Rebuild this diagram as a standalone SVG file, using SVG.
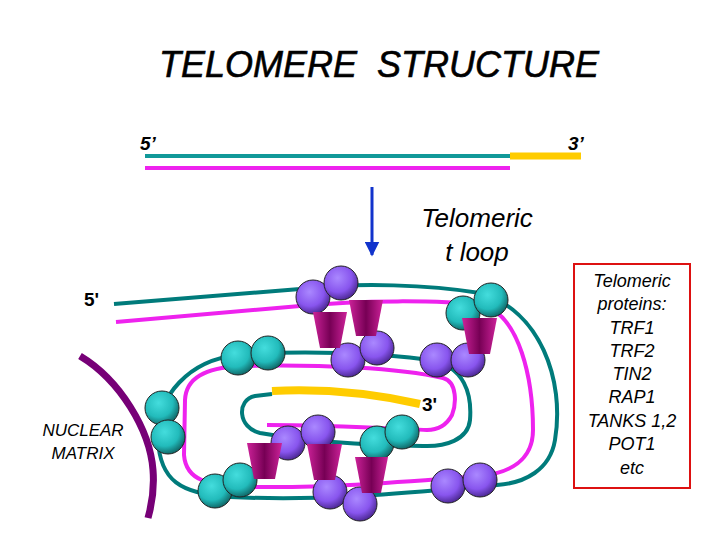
<svg xmlns="http://www.w3.org/2000/svg" width="720" height="540" viewBox="0 0 720 540">
<style>
text{font-family:"Liberation Sans",Arial,sans-serif;fill:#000}
.t{fill:none;stroke:#007b7b;stroke-width:4}
.m{fill:none;stroke:#ee22ee;stroke-width:4}
.it{font-style:italic}
.p{fill:url(#gp);stroke:#222;stroke-width:1}
.c{fill:url(#gt);stroke:#222;stroke-width:1}
.z{fill:url(#gz)}
</style>
<defs>
<radialGradient id="gp" cx="0.4" cy="0.35" r="0.7"><stop offset="0" stop-color="#aa88ff"/><stop offset="0.6" stop-color="#8855ee"/><stop offset="1" stop-color="#442288"/></radialGradient>
<radialGradient id="gt" cx="0.4" cy="0.35" r="0.7"><stop offset="0" stop-color="#44dddd"/><stop offset="0.6" stop-color="#22bbbb"/><stop offset="1" stop-color="#0d5c5c"/></radialGradient>
<linearGradient id="gz" x1="0" y1="0" x2="1" y2="0"><stop offset="0" stop-color="#cc2299"/><stop offset="0.5" stop-color="#770055"/><stop offset="1" stop-color="#cc2299"/></linearGradient>
<marker id="ar" viewBox="0 0 10 10" refX="9" refY="5" markerWidth="5" markerHeight="5" orient="auto"><path d="M0,0L10,5L0,10z" fill="#1133cc"/></marker>
</defs>
<text x="379" y="77" font-size="36" class="it" text-anchor="middle" xml:space="preserve" stroke="#000" stroke-width="0.6">TELOMERE  STRUCTURE</text>
<g id="top">
<text x="140" y="150" font-size="19" font-weight="bold" class="it">5’</text>
<text x="568" y="150" font-size="19" font-weight="bold" class="it">3’</text>
<line x1="145" y1="156" x2="512" y2="156" stroke="#119999" stroke-width="4"/>
<line x1="510" y1="156" x2="581" y2="156" stroke="#ffcc00" stroke-width="7"/>
<line x1="145" y1="168" x2="510" y2="168" stroke="#ee22ee" stroke-width="4"/>
</g>
<g id="connectors">
<line x1="372" y1="187" x2="372" y2="255" stroke="#1133cc" stroke-width="3" marker-end="url(#ar)"/>
<path class="t" d="M114,304 L300,289 C360,282 430,285 480,293 C540,310 565,380 555,440 C550,470 525,483 497,485 C430,490 340,502 230,497 C180,494 160,480 158,440 C156,395 190,360 238,355 C300,350 380,353 430,360 C465,366 472,395 470,420 C468,440 445,447 423,446 C360,445 300,440 260,433 C238,428 236,400 255,396 L272,394"/>
<path class="m" d="M116,322 L300,306 C360,300 440,300 482,305 C520,315 533,380 533,430 C533,460 510,473 480,476 C400,482 330,488 257,487 C205,486 186,480 184,455 L185,400 C186,378 205,368 240,366 C320,364 400,368 443,378 C458,382 456,405 452,415 C445,428 435,430 427,430 C380,428 320,425 267,425"/>
<path d="M272,391 C330,388 380,395 420,404" fill="none" stroke="#ffcc00" stroke-width="8"/>
<path d="M80,356 C120,380 150,430 153,470 C155,495 150,510 148,518" fill="none" stroke="#770077" stroke-width="7"/>
</g>
<text x="477" y="227" font-size="26" class="it" text-anchor="middle">Telomeric</text>
<text x="477" y="261" font-size="26" class="it" text-anchor="middle">t loop</text>
<text x="84" y="306" font-size="19" font-weight="bold">5'</text>
<text x="422" y="411" font-size="19" font-weight="bold">3'</text>
<text x="83" y="436" font-size="17" class="it" text-anchor="middle">NUCLEAR</text>
<text x="83" y="459" font-size="17" class="it" text-anchor="middle">MATRIX</text>
<g id="proteins">
<circle class="p" cx="313" cy="297" r="17"/><circle class="p" cx="341" cy="283" r="17"/>
<circle class="c" cx="463" cy="313" r="17"/><circle class="c" cx="491" cy="300" r="17"/>
<circle class="c" cx="238" cy="358" r="17"/><circle class="c" cx="268" cy="353" r="17"/>
<circle class="p" cx="348" cy="360" r="17"/><circle class="p" cx="377" cy="348" r="17"/>
<circle class="p" cx="437" cy="360" r="17"/><circle class="p" cx="468" cy="360" r="17"/>
<circle class="c" cx="162" cy="408" r="17"/><circle class="c" cx="168" cy="437" r="17"/>
<circle class="c" cx="215" cy="491" r="17"/><circle class="c" cx="240" cy="480" r="17"/>
<circle class="p" cx="288" cy="443" r="17"/><circle class="p" cx="318" cy="432" r="17"/>
<circle class="p" cx="330" cy="492" r="17"/><circle class="p" cx="360" cy="504" r="17"/>
<circle class="c" cx="377" cy="443" r="17"/><circle class="c" cx="402" cy="432" r="17"/>
<circle class="p" cx="448" cy="486" r="17"/><circle class="p" cx="480" cy="480" r="17"/>
<polygon class="z" points="313,312 347,312 340,348 320,348"/>
<polygon class="z" points="349,300 383,300 376,336 356,336"/>
<polygon class="z" points="462,318 497,318 490,354 469,354"/>
<polygon class="z" points="247,443 282,443 275,479 254,479"/>
<polygon class="z" points="307,444 342,444 335,480 314,480"/>
<polygon class="z" points="355,457 388,457 381,493 362,493"/>
</g>
<g id="legend">
<rect x="574" y="264" width="116" height="224" fill="#fff" stroke="#dd1111" stroke-width="2"/>
<g font-size="18" class="it" text-anchor="middle">
<text x="632" y="287" class="it">Telomeric</text>
<text x="632" y="310" class="it">proteins:</text>
<text x="632" y="334" class="it">TRF1</text>
<text x="632" y="357" class="it">TRF2</text>
<text x="632" y="380" class="it">TIN2</text>
<text x="632" y="403" class="it">RAP1</text>
<text x="632" y="427" class="it">TANKS 1,2</text>
<text x="632" y="450" class="it">POT1</text>
<text x="632" y="474" class="it">etc</text>
</g>
</g>
</svg>
